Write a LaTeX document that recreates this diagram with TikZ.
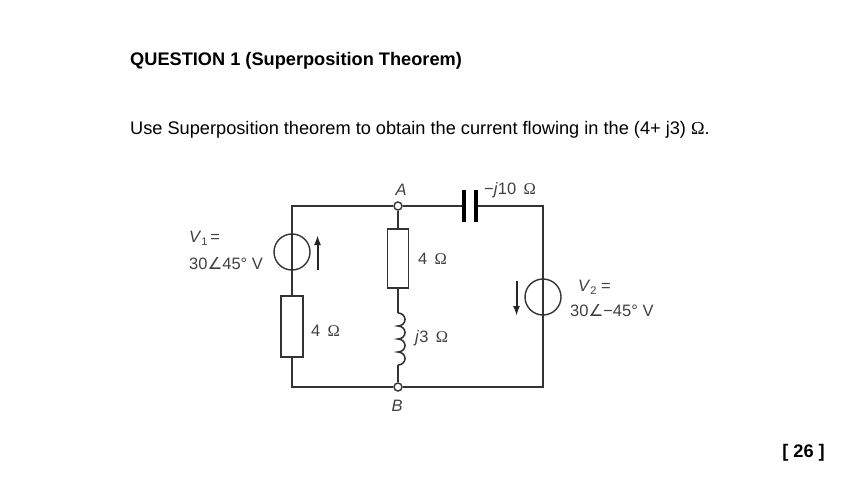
\documentclass[tikz,border=0pt]{standalone}
\usepackage{fontspec}
\setmainfont{Liberation Sans}
\newfontfamily\omegafont{Liberation Serif}
\newfontfamily\anglefont{DejaVu Sans}
\newcommand{\ohm}{{\omegafont\symbol{"03A9}}}
\newcommand{\ang}{{\anglefont\symbol{"2220}}}
\newcommand{\lowsub}[1]{\raisebox{-3pt}{\fontsize{11}{12}\selectfont #1}}
\tikzset{
  wire/.style={draw=black!80,line width=1.6pt},
  rbox/.style={draw=black!80,line width=1.5pt,fill=white,inner sep=0pt,minimum width=22pt,minimum height=60pt},
  srcv/.style={circle,draw=black!80,line width=1.4pt,inner sep=0pt,minimum size=36pt},
  term/.style={circle,draw=black!80,line width=1.4pt,fill=white,inner sep=0pt,minimum size=8pt},
  plate/.style={draw=black,line width=3.2pt},
  flow/.style={draw=black!85,line width=2pt,-{Latex[length=10pt,width=7pt]}},
  lbl/.style={text=black!75,font=\fontsize{16.5}{18}\selectfont,inner sep=0pt},
  head/.style={anchor=base west,inner sep=0pt,font=\fontsize{18.2}{20}\selectfont\bfseries},
  body/.style={anchor=base west,inner sep=0pt,font=\fontsize{18.2}{20}\selectfont}
}
\usetikzlibrary{arrows.meta}
\begin{document}
\begin{tikzpicture}[x=1pt,y=-1pt]
  \useasboundingbox (0,0) rectangle (864,489);
  \node[head] (title) at (130,66) {QUESTION 1 (Superposition Theorem)};
  \node[body] (task) at (130,135) {Use Superposition theorem to obtain the current flowing in the (4+ j3) \ohm.};
  \node[head,anchor=base east] (marks) at (825,457) {[ 26 ]};

  % corners
  \coordinate (tl) at (292,206);
  \coordinate (bl) at (292,387);
  \coordinate (tr) at (543,206);
  \coordinate (br) at (543,387);
  \node[term] (A) at (398,206) {};
  \node[term] (B) at (398,387) {};

  % elements
  \node[srcv] (V1) at (292,252) {};
  \node[srcv] (V2) at (543,297) {};
  \node[rbox,minimum height=61pt] (R1) at (292,326.5) {};
  \node[rbox,minimum width=21pt,minimum height=59pt] (R2) at (398,258.5) {};
  \coordinate (Ltop) at (398,313);
  \coordinate (Lbot) at (398,365);
  \coordinate (C1) at (464,206);
  \coordinate (C2) at (476,206);

  % wires
  \draw[wire] (R1.north) -- (tl) -- (A);
  \draw[wire] (R1.south) -- (bl) -- (B);
  \draw[wire] (A) -- (R2);
  \draw[wire] (R2) -- (Ltop);
  \draw[wire] (Lbot) -- (B);
  \draw[wire] (A) -- (C1);
  \draw[wire] (C2) -- (tr) -- (br) -- (B);
  \draw[wire] (Ltop) arc[start angle=-90,end angle=90,x radius=7,y radius=6.5]
    arc[start angle=-90,end angle=90,x radius=7,y radius=6.5]
    arc[start angle=-90,end angle=90,x radius=7,y radius=6.5]
    arc[start angle=-90,end angle=90,x radius=7,y radius=6.5];
  \draw[plate] ([yshift=16pt]C1) -- ([yshift=-16pt]C1);
  \draw[plate] ([yshift=16pt]C2) -- ([yshift=-16pt]C2);

  % source arrows
  \coordinate (a1s) at (317.5,270);
  \coordinate (a1e) at (317.5,235);
  \coordinate (a2s) at (516.5,281);
  \coordinate (a2e) at (516.5,316);
  \draw[flow] (a1s) -- (a1e);
  \draw[flow] (a2s) -- (a2e);

  % labels
  \node[lbl] (lA) at (401,190) {\textit{A}};
  \node[lbl] (lB) at (397,406) {\textit{B}};
  \node[lbl,anchor=base west] (lC) at (484,195) {\textminus\textit{j}10\, \ohm};
  \node[lbl,anchor=base west] (lR1) at (311,336) {4\, \ohm};
  \node[lbl,anchor=base west] (lR2) at (418,264) {4\, \ohm};
  \node[lbl,anchor=base west] (lL) at (415,342) {\textit{j}3\, \ohm};
  \node[lbl,anchor=base west] (lV1a) at (189,242) {\textit{V}\lowsub{1}\,=};
  \node[lbl,anchor=base west] (lV1b) at (189,269) {30\ang45° V};
  \node[lbl,anchor=base west] (lV2a) at (578,291) {\textit{V}\lowsub{2} =};
  \node[lbl,anchor=base west] (lV2b) at (570,316) {30\ang\textminus45° V};
\end{tikzpicture}
\end{document}
